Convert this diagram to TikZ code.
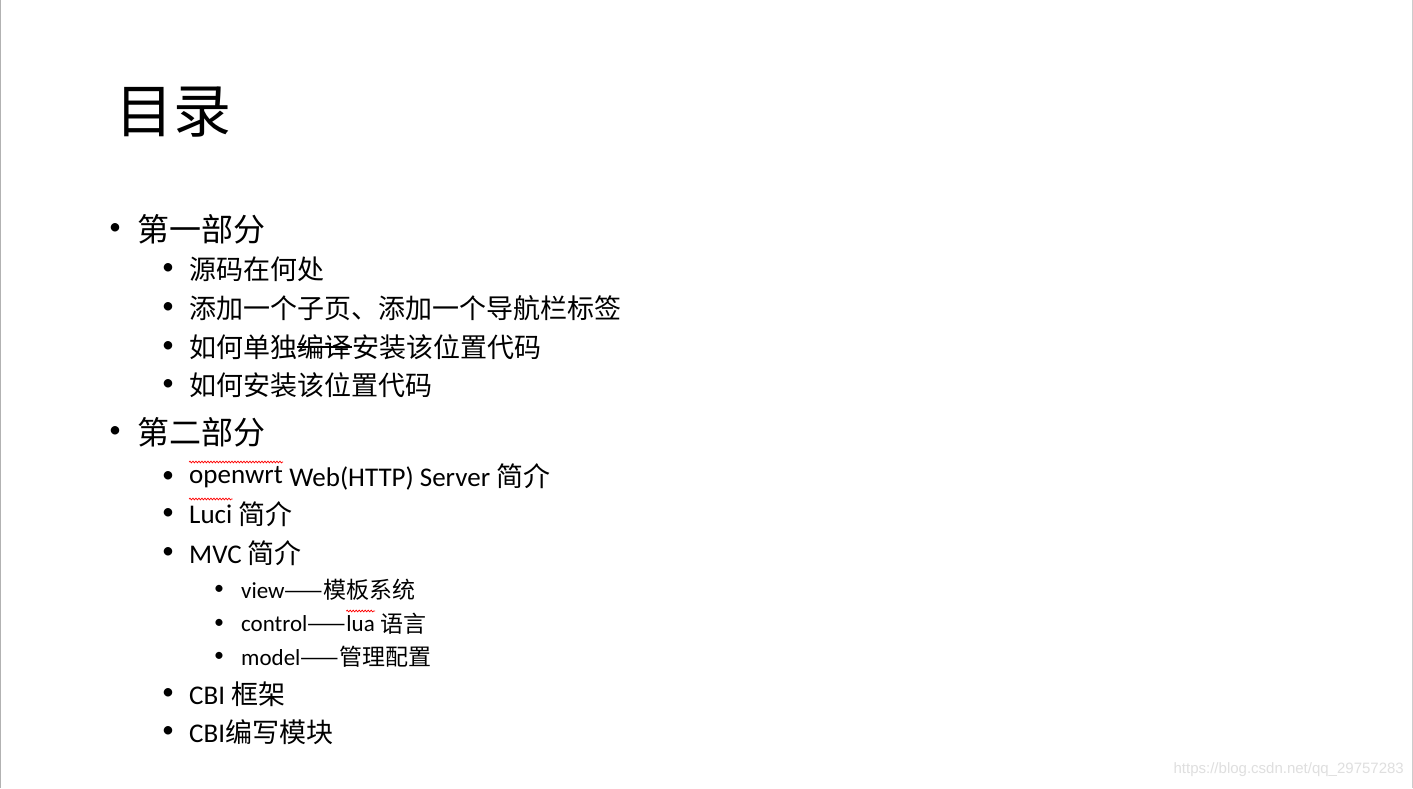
\documentclass[tikz,border=0pt]{standalone}
\usepackage{fontspec}
\setmainfont{Carlito}
\newfontfamily\cjk{Noto Sans CJK SC}
\newfontfamily\wmfont{Liberation Sans}
\usetikzlibrary{decorations.pathmorphing}
\begin{document}
\begin{tikzpicture}[x=1pt,y=-1pt,
  la/.style={anchor=west,inner sep=0pt,font=\fontsize{32}{36}\selectfont},
  lb/.style={anchor=west,inner sep=0pt,font=\fontsize{27}{32}\selectfont},
  lc/.style={anchor=west,inner sep=0pt,font=\fontsize{23}{28}\selectfont},
  bul/.style={anchor=center,inner sep=0pt,font=\fontsize{24}{28}\selectfont},
  wavy/.style={draw=red,line width=0.7pt,decorate,decoration={snake,amplitude=0.9pt,segment length=3pt}}]
\useasboundingbox (0,0) rectangle (1413,788);
\fill[white] (0,0) rectangle (1413,788);
\draw[gray!60,line width=1pt] (0.5,0) -- (0.5,788);
\draw[gray!40,line width=1pt] (1412.5,0) -- (1412.5,788);
\node[anchor=west,inner sep=0pt,font=\fontsize{58}{64}\selectfont\cjk] (title) at (115,112) {目录};
% level 1
\foreach \y/\n in {229/a,432/b} \node[bul] (b\n) at (115,\y) {•};
\node[la] (p1) at (137,229) {\cjk 第一部分};
\node[la] (p2) at (137,432) {\cjk 第二部分};
% level 2
\foreach \y/\n in {269/1,308/2,347/3,385/4,477/5,514/6,553/7,694/8,732/9} \node[bul] (c\n) at (168,\y) {•};
\node[lb] (t1) at (189,269) {\cjk 源码在何处};
\node[lb] (t2) at (189,308) {\cjk 添加一个子页、添加一个导航栏标签};
\node[lb] (t3a) at (189,347) {\cjk 如何单独};
\node[lb] (t3b) at (t3a.east) {\cjk 编译};
\node[lb] (t3c) at (t3b.east) {\cjk 安装该位置代码};
\draw[line width=1.3pt] (t3b.west) -- (t3b.east);
\node[lb] (t4) at (189,385) {\cjk 如何安装该位置代码};
\node[lb] (t5a) at (189,477) {openwrt};
\node[lb] (t5b) at (t5a.east) {\ Web(HTTP) Server {\cjk 简介}};
\node[lb] (t6a) at (189,514) {Luci};
\node[lb] (t6b) at (t6a.east) {\ {\cjk 简介}};
\node[lb] (t7) at (189,553) {MVC {\cjk 简介}};
\node[lb] (t8) at (189,694) {CBI {\cjk 框架}};
\node[lb] (t9) at (189,732) {CBI{\cjk 编写模块}};
% level 3
\foreach \y/\n in {590/1,624/2,657/3} \node[bul,font=\fontsize{20}{24}\selectfont] (d\n) at (219,\y) {•};
\node[lc] (u1) at (241,590) {view{\cjk ——模板系统}};
\node[lc] (u2a) at (241,624) {control{\cjk ——}};
\node[lc] (u2b) at (u2a.east) {lua};
\node[lc] (u2c) at (u2b.east) {\ {\cjk 语言}};
\node[lc] (u3) at (241,657) {model{\cjk ——管理配置}};
% spell underlines
\draw[wavy] ([yshift=15pt]t5a.west) -- ([yshift=15pt]t5a.east);
\draw[wavy] ([yshift=15pt]t6a.west) -- ([yshift=15pt]t6a.east);
\draw[wavy] ([yshift=13pt]u2b.west) -- ([yshift=13pt]u2b.east);
\node[anchor=east,inner sep=0pt,text=gray!25,font=\fontsize{15}{18}\selectfont\wmfont] (wm) at (1404,770) {https://blog.csdn.net/qq\_29757283};
\end{tikzpicture}
\end{document}
